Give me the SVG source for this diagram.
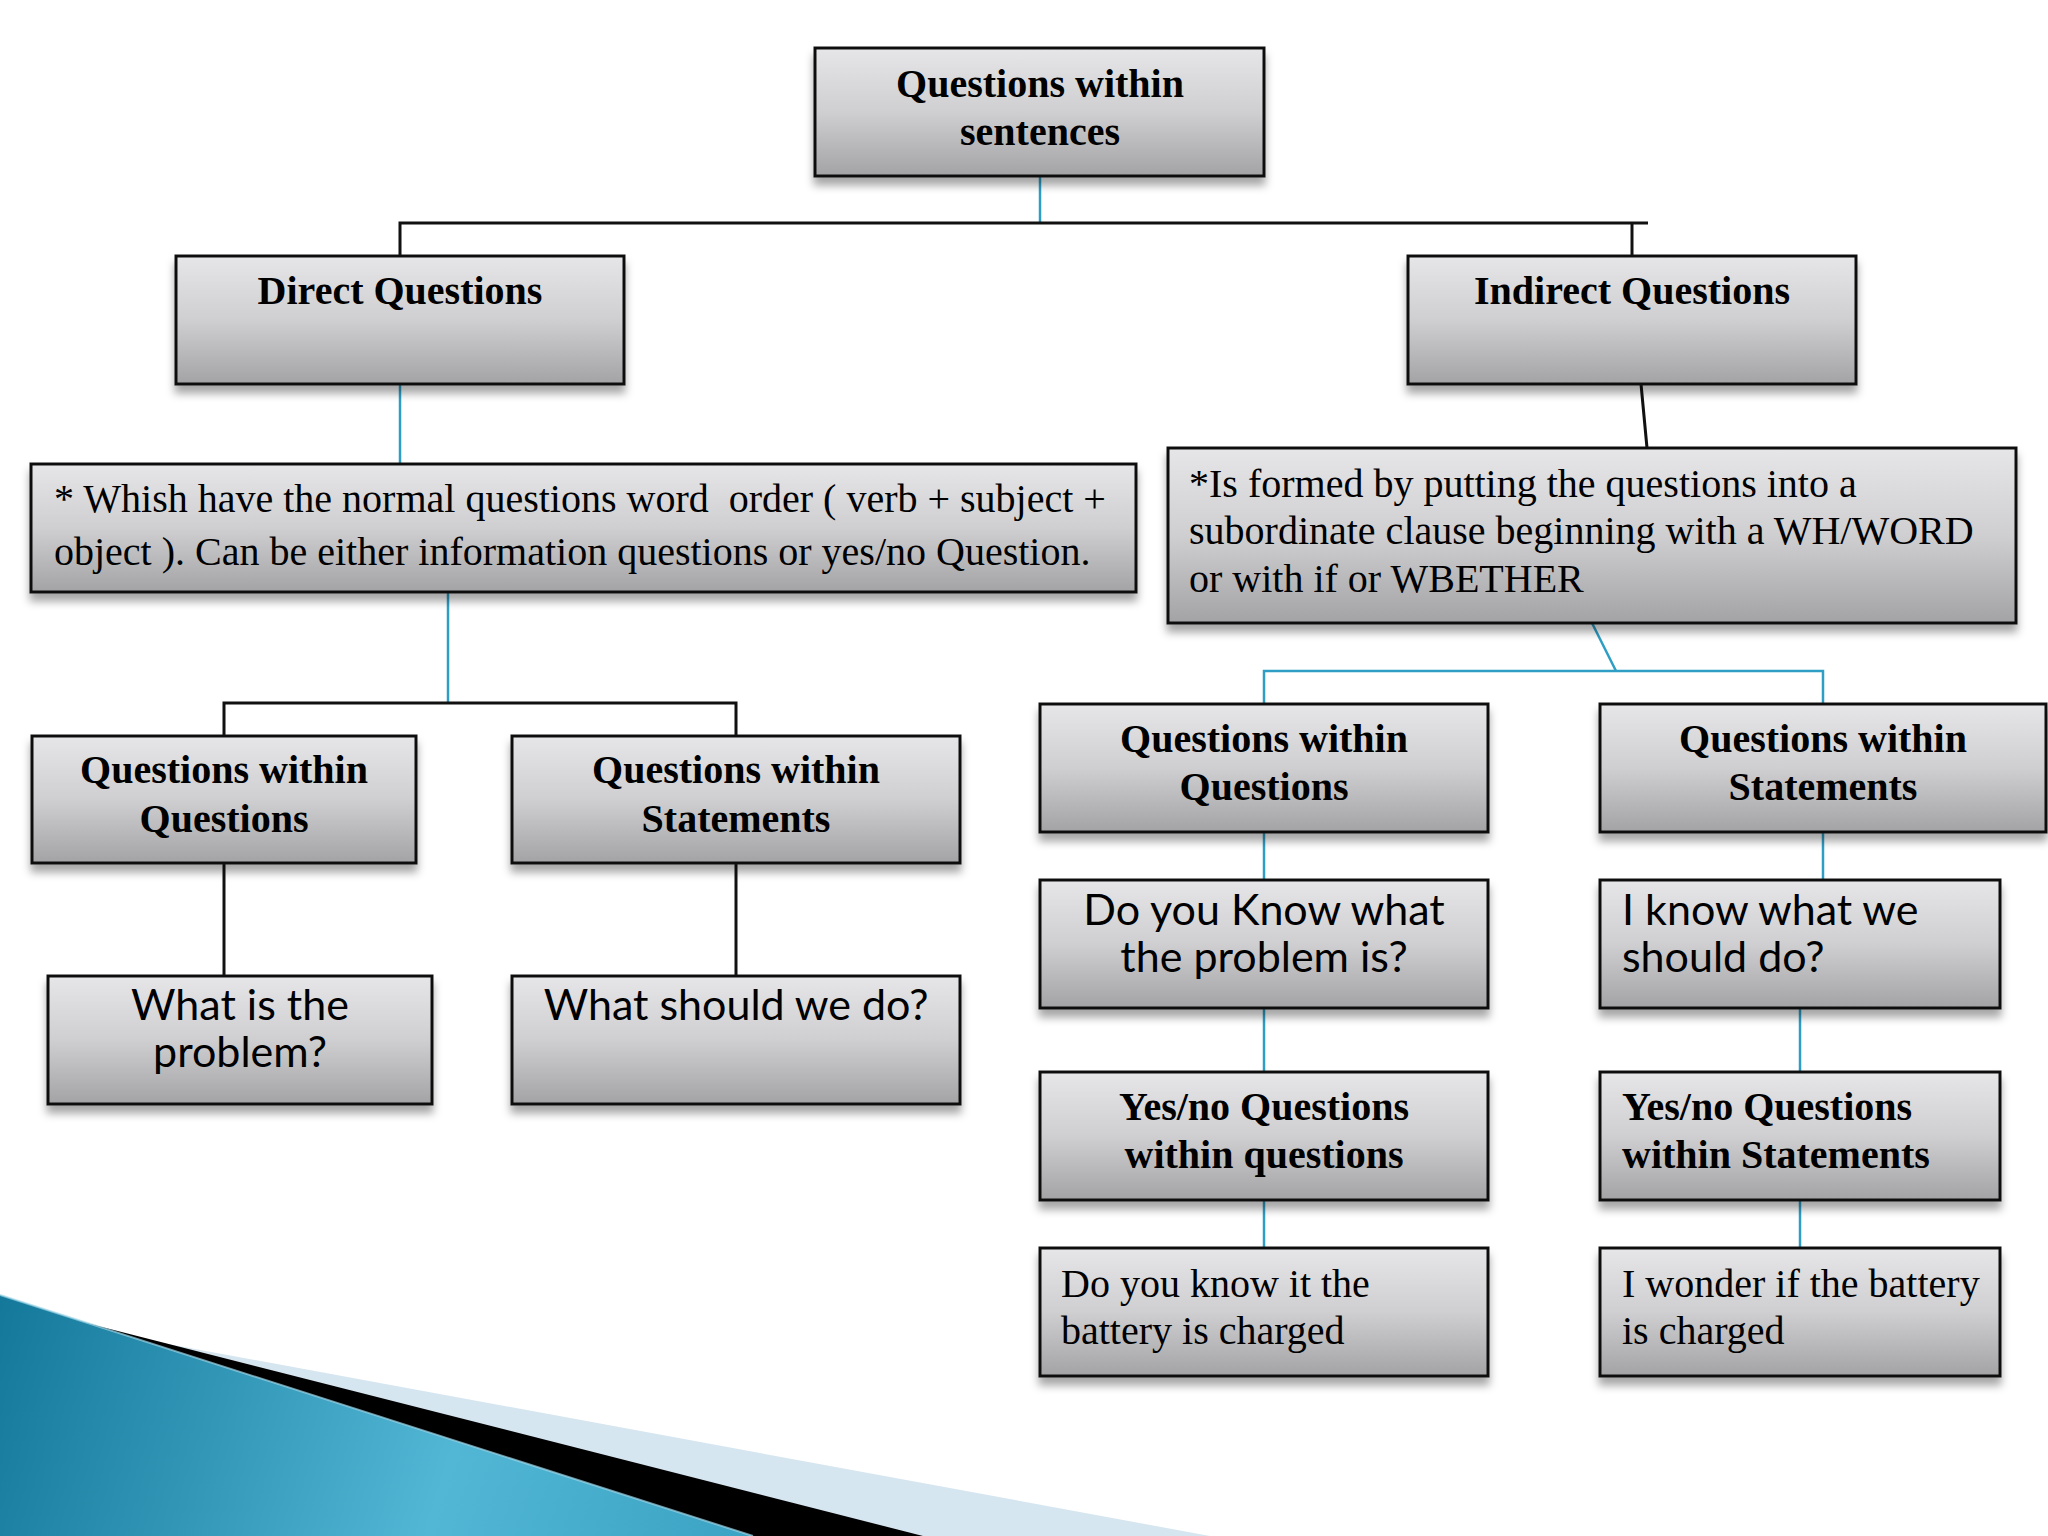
<svg xmlns="http://www.w3.org/2000/svg" width="2048" height="1536" viewBox="0 0 2048 1536">
<defs>
<linearGradient id="boxg" x1="0" y1="0" x2="0" y2="1">
<stop offset="0" stop-color="#e6e6e8"/>
<stop offset="0.5" stop-color="#cfcfd1"/>
<stop offset="1" stop-color="#a3a3a5"/>
</linearGradient>
<linearGradient id="teal" gradientUnits="userSpaceOnUse" x1="0" y1="1300" x2="760" y2="1536">
<stop offset="0" stop-color="#13789a"/>
<stop offset="0.6" stop-color="#52b7d5"/>
<stop offset="1" stop-color="#3aa2c3"/>
</linearGradient>
<filter id="sh" x="-5%" y="-10%" width="110%" height="135%">
<feGaussianBlur in="SourceAlpha" stdDeviation="4"/>
<feOffset dy="8" result="b"/>
<feFlood flood-color="#000" flood-opacity="0.35"/>
<feComposite in2="b" operator="in"/>
<feMerge><feMergeNode/><feMergeNode in="SourceGraphic"/></feMerge>
</filter>
</defs>
<style>
.box{fill:url(#boxg);stroke:#111;stroke-width:3;filter:url(#sh)}
.tb{font-family:"Liberation Serif","Times New Roman",serif;font-weight:bold;font-size:40px;fill:#000}
.tr{font-family:"Liberation Serif","Times New Roman",serif;font-size:40px;fill:#000}
.ts{font-family:Lato,"Open Sans",sans-serif;font-size:43px;fill:#000}
.c{text-anchor:middle}
.cb{stroke:#2e9ec4;stroke-width:2.5;fill:none}
.ck{stroke:#111;stroke-width:3;fill:none}
</style>
<rect width="2048" height="1536" fill="#fff"/>
<g id="decoration">
<polygon points="0,1313 1210,1536 0,1536" fill="#d6e6f0"/>
<polygon points="0,1301 923,1536 0,1536" fill="#000"/>
<polygon points="0,1295 753,1536 0,1536" fill="url(#teal)"/>
<line x1="0" y1="1295" x2="753" y2="1536" stroke="#9fd6e8" stroke-width="2" opacity="0.7"/>
</g>
<g id="connectors">
<line class="cb" x1="1040" y1="176" x2="1040" y2="223"/>
<polyline class="ck" points="400,256 400,223 1648,223"/>
<line class="ck" x1="1632" y1="223" x2="1632" y2="256"/>
<line class="ck" x1="1641" y1="384" x2="1647" y2="448"/>
<line class="cb" x1="400" y1="384" x2="400" y2="464"/>
<line class="cb" x1="448" y1="592" x2="448" y2="703"/>
<polyline class="ck" points="224,736 224,703 736,703 736,736"/>
<line class="ck" x1="224" y1="863" x2="224" y2="976"/>
<line class="ck" x1="736" y1="863" x2="736" y2="976"/>
<line class="cb" x1="1592" y1="623" x2="1616" y2="671"/>
<polyline class="cb" points="1264,704 1264,671 1823,671 1823,704"/>
<line class="cb" x1="1264" y1="832" x2="1264" y2="880"/>
<line class="cb" x1="1823" y1="832" x2="1823" y2="880"/>
<line class="cb" x1="1264" y1="1008" x2="1264" y2="1072"/>
<line class="cb" x1="1800" y1="1008" x2="1800" y2="1072"/>
<line class="cb" x1="1264" y1="1200" x2="1264" y2="1248"/>
<line class="cb" x1="1800" y1="1200" x2="1800" y2="1248"/>
</g>
<g id="n_top"><rect class="box" x="815" y="48" width="449" height="128"/>
<text class="tb c" x="1040" y="97">Questions within</text><text class="tb c" x="1040" y="145">sentences</text></g>
<g id="n_direct"><rect class="box" x="176" y="256" width="448" height="128"/>
<text class="tb c" x="400" y="304">Direct Questions</text></g>
<g id="n_indirect"><rect class="box" x="1408" y="256" width="448" height="128"/>
<text class="tb c" x="1632" y="304">Indirect Questions</text></g>
<g id="n_whish"><rect class="box" x="31" y="464" width="1105" height="128"/>
<text class="tr" x="54" y="512" xml:space="preserve">* Whish have the normal questions word  order ( verb + subject +</text>
<text class="tr" x="54" y="565">object ). Can be either information questions or yes/no Question.</text></g>
<g id="n_formed"><rect class="box" x="1168" y="448" width="848" height="175"/>
<text class="tr" x="1189" y="497">*Is formed by putting the questions into a</text>
<text class="tr" x="1189" y="544">subordinate clause beginning with a WH/WORD</text>
<text class="tr" x="1189" y="592">or with if or WBETHER</text></g>
<g id="n_qwq_left"><rect class="box" x="32" y="736" width="384" height="127"/>
<text class="tb c" x="224" y="783">Questions within</text><text class="tb c" x="224" y="832">Questions</text></g>
<g id="n_qws_left"><rect class="box" x="512" y="736" width="448" height="127"/>
<text class="tb c" x="736" y="783">Questions within</text><text class="tb c" x="736" y="832">Statements</text></g>
<g id="n_what_is"><rect class="box" x="48" y="976" width="384" height="128"/>
<text class="ts c" x="240" y="1020">What is the</text><text class="ts c" x="240" y="1067">problem?</text></g>
<g id="n_what_should"><rect class="box" x="512" y="976" width="448" height="128"/>
<text class="ts c" x="736" y="1020">What should we do?</text></g>
<g id="n_qwq_right"><rect class="box" x="1040" y="704" width="448" height="128"/>
<text class="tb c" x="1264" y="752">Questions within</text><text class="tb c" x="1264" y="800">Questions</text></g>
<g id="n_qws_right"><rect class="box" x="1600" y="704" width="446" height="128"/>
<text class="tb c" x="1823" y="752">Questions within</text><text class="tb c" x="1823" y="800">Statements</text></g>
<g id="n_do_you"><rect class="box" x="1040" y="880" width="448" height="128"/>
<text class="ts c" x="1264" y="925">Do you Know what</text><text class="ts c" x="1264" y="972">the problem is?</text></g>
<g id="n_i_know"><rect class="box" x="1600" y="880" width="400" height="128"/>
<text class="ts" x="1622" y="925">I know what we</text><text class="ts" x="1622" y="972">should do?</text></g>
<g id="n_yn_q"><rect class="box" x="1040" y="1072" width="448" height="128"/>
<text class="tb c" x="1264" y="1120">Yes/no Questions</text><text class="tb c" x="1264" y="1168">within questions</text></g>
<g id="n_yn_s"><rect class="box" x="1600" y="1072" width="400" height="128"/>
<text class="tb" x="1622" y="1120">Yes/no Questions</text><text class="tb" x="1622" y="1168">within Statements</text></g>
<g id="n_battery"><rect class="box" x="1040" y="1248" width="448" height="128"/>
<text class="tr" x="1061" y="1297">Do you know it the</text><text class="tr" x="1061" y="1344">battery is charged</text></g>
<g id="n_wonder"><rect class="box" x="1600" y="1248" width="400" height="128"/>
<text class="tr" x="1622" y="1297">I wonder if the battery</text><text class="tr" x="1622" y="1344">is charged</text></g>
</svg>
